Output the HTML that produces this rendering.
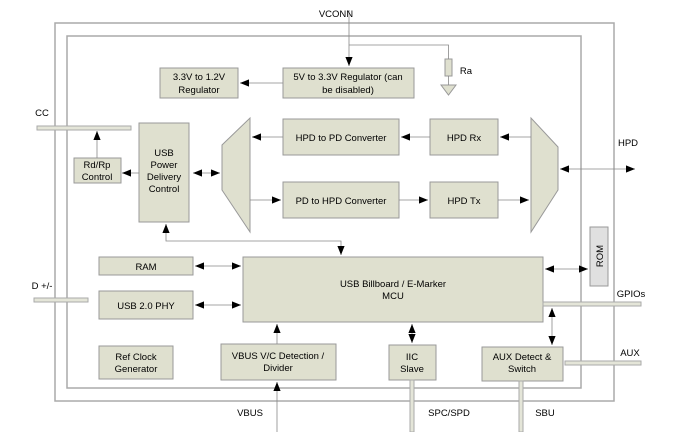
<!DOCTYPE html>
<html><head><meta charset="utf-8"><style>
html,body{margin:0;padding:0;background:#fff;}
svg{display:block;font-family:"Liberation Sans",Arial,sans-serif;font-size:9.5px;}
</style></head><body>
<svg width="683" height="432" viewBox="0 0 683 432" xmlns="http://www.w3.org/2000/svg">
<defs>
<marker id="a" viewBox="0 0 10 10" refX="10" refY="5" markerWidth="9" markerHeight="9" orient="auto-start-reverse" markerUnits="userSpaceOnUse"><path d="M0,1 L10,5 L0,9 z" fill="#000"/></marker>
</defs>
<g fill="none" stroke="#aaa" stroke-width="1.5">
<rect x="55" y="23" width="559" height="378"/>
<rect x="67" y="36" width="514" height="352"/>
</g>
<g fill="#dfe0cf" stroke="#999" stroke-width="1">
<rect x="160" y="68" width="78" height="30"/>
<rect x="283" y="68" width="131" height="30"/>
<rect x="74" y="158" width="47" height="25"/>
<rect x="139" y="123" width="50" height="99"/>
<rect x="283" y="119" width="116" height="36"/>
<rect x="430" y="119" width="68" height="36"/>
<rect x="283" y="182" width="116" height="36"/>
<rect x="430" y="182" width="68" height="36"/>
<polygon points="250,118 250,232 222,190 222,145"/>
<polygon points="531,118 531,232 558,190 558,147"/>
<rect x="99" y="257" width="94" height="18"/>
<rect x="99" y="291" width="94" height="28"/>
<rect x="243" y="257" width="300" height="65"/>
<rect x="99" y="346" width="74" height="33"/>
<rect x="221" y="344" width="115" height="36"/>
<rect x="389" y="345" width="47" height="35"/>
<rect x="482" y="347" width="81" height="34"/>
<rect x="445" y="59" width="7" height="17"/>
<polygon points="441,85 456,85 448.5,95"/>
</g>
<rect x="590" y="227" width="18" height="59" fill="#e0e0e0" stroke="#999"/>
<g fill="#e4e5d8" stroke="#aaa">
<rect x="37" y="126" width="94" height="4"/>
<rect x="34" y="298" width="54" height="4"/>
<rect x="543" y="302" width="98" height="4"/>
<rect x="565" y="361" width="76" height="4"/>
<rect x="410" y="380" width="4" height="52"/>
<rect x="519" y="381" width="4" height="51"/>
</g>
<g stroke="#888" stroke-width="0.8" fill="none">
<path d="M349,10 V66" marker-end="url(#a)"/>
<path d="M349,45 H448.5 V59"/>
<path d="M448.5,76 V85"/>
<path d="M283,83 H240" marker-end="url(#a)"/>
<path d="M97,158 V131" marker-end="url(#a)"/>
<path d="M139,173 H122" marker-end="url(#a)"/>
<path d="M193,173 H220" marker-start="url(#a)" marker-end="url(#a)"/>
<path d="M283,137 H252" marker-end="url(#a)"/>
<path d="M430,137 H401" marker-end="url(#a)"/>
<path d="M531,137 H500" marker-end="url(#a)"/>
<path d="M250,200 H281" marker-end="url(#a)"/>
<path d="M399,200 H428" marker-end="url(#a)"/>
<path d="M498,200 H529" marker-end="url(#a)"/>
<path d="M560,169 H635" marker-start="url(#a)" marker-end="url(#a)"/>
<path d="M166,224 V241 H341 V255" marker-start="url(#a)" marker-end="url(#a)"/>
<path d="M195,266 H241" marker-start="url(#a)" marker-end="url(#a)"/>
<path d="M195,305 H241" marker-start="url(#a)" marker-end="url(#a)"/>
<path d="M545,269 H588" marker-start="url(#a)" marker-end="url(#a)"/>
<path d="M277,344 V324" marker-end="url(#a)"/>
<path d="M277,432 V382" marker-end="url(#a)"/>
<path d="M412,324 V343" marker-start="url(#a)" marker-end="url(#a)"/>
<path d="M552,308 V345" marker-start="url(#a)" marker-end="url(#a)"/>
</g>
<g fill="#000" text-anchor="middle">
<text x="336" y="17">VCONN</text>
<text x="466" y="74">Ra</text>
<text x="199" y="80">3.3V to 1.2V</text><text x="199" y="93">Regulator</text>
<text x="348" y="80">5V to 3.3V Regulator (can</text><text x="348" y="93">be disabled)</text>
<text x="42" y="116">CC</text>
<text x="97" y="168">Rd/Rp</text><text x="97" y="180">Control</text>
<text x="164" y="156">USB</text><text x="164" y="168">Power</text><text x="164" y="180">Delivery</text><text x="164" y="192">Control</text>
<text x="341" y="141">HPD to PD Converter</text>
<text x="464" y="141">HPD Rx</text>
<text x="341" y="204">PD to HPD Converter</text>
<text x="464" y="204">HPD Tx</text>
<text x="628" y="146">HPD</text>
<text x="146" y="270">RAM</text>
<text x="146" y="309">USB 2.0 PHY</text>
<text x="393" y="287">USB Billboard  / E-Marker</text>
<text x="393" y="299">MCU</text>
<text x="136" y="360">Ref Clock</text><text x="136" y="372">Generator</text>
<text x="278" y="359">VBUS V/C Detection /</text><text x="278" y="371">Divider</text>
<text x="412" y="360">IIC</text><text x="412" y="372">Slave</text>
<text x="522" y="360">AUX Detect &amp;</text><text x="522" y="372">Switch</text>
<text x="42" y="289">D +/-</text>
<text x="631" y="297">GPIOs</text>
<text x="630" y="356">AUX</text>
<text x="250" y="416">VBUS</text>
<text x="449" y="416">SPC/SPD</text>
<text x="545" y="416">SBU</text>
<text transform="translate(603,256) rotate(-90)">ROM</text>
</g>
</svg>
</body></html>
